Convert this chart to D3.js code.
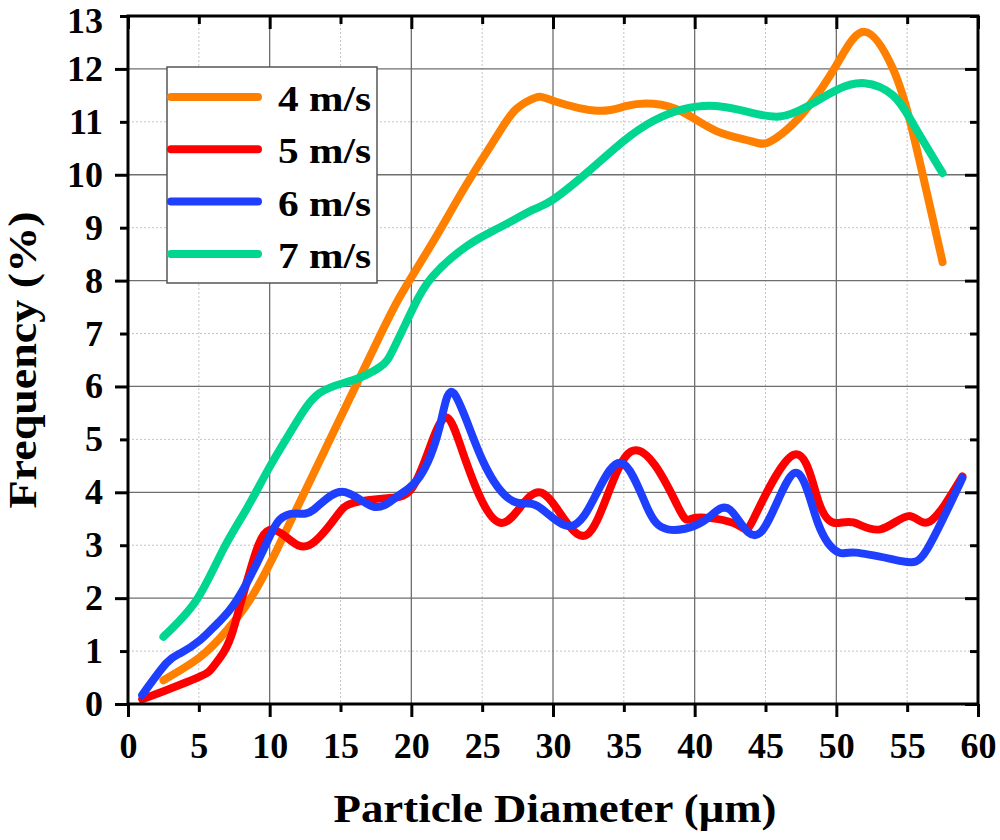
<!DOCTYPE html>
<html>
<head>
<meta charset="utf-8">
<script src="https://cdn.jsdelivr.net/npm/d3@7"></script>
<style>
  body { margin: 0; background: #fff; }
  svg text { font-family: "Liberation Serif", "Times New Roman", serif; font-weight: bold; }
</style>
</head>
<body>
<div id="root"></div>
<script>
// data
var seriesNames = ["4 m/s", "5 m/s", "6 m/s", "7 m/s"];
var seriesColors = ["#ff8000", "#ff0000", "#1f3fff", "#00d68f"];

var x4 = [2.5, 5.1, 7.0, 8.6, 10.5, 13.9, 17.3, 19.2, 21.5, 23.9, 26.2, 27.4, 28.8, 30.0, 33.1, 35.2, 37.1, 39.2, 41.5, 43.9, 45.1, 46.5, 48.0, 50.0, 52.0, 54.0, 55.4, 57.5];
var y4 = [0.45, 0.89, 1.40, 1.97, 2.91, 4.8, 6.69, 7.70, 8.72, 9.82, 10.8, 11.24, 11.46, 11.40, 11.21, 11.30, 11.34, 11.18, 10.83, 10.64, 10.6, 10.85, 11.28, 12.07, 12.7, 12.0, 10.8, 8.35];

var x5 = [1.0, 2.7, 5.1, 6.0, 6.8, 7.4, 8.0, 8.6, 9.2, 10.0, 11.2, 12.8, 14.7, 15.9, 18.3, 20.1, 21.5, 22.6, 23.9, 26.4, 29.2, 32.4, 35.5, 38.8, 40.1, 43.0, 44.2, 47.0, 48.7, 49.9, 51.2, 53.1, 55.1, 56.6, 58.9];
var y5 = [0.09, 0.26, 0.52, 0.70, 1.0, 1.38, 1.95, 2.5, 3.0, 3.29, 3.15, 3.0, 3.54, 3.8, 3.89, 4.1, 4.99, 5.40, 4.55, 3.42, 3.99, 3.2, 4.77, 3.74, 3.52, 3.39, 3.52, 4.71, 3.86, 3.42, 3.43, 3.30, 3.55, 3.45, 4.30];

var x6 = [1.0, 2.7, 3.7, 5.1, 6.3, 7.7, 9.55, 10.7, 11.9, 13.1, 15.1, 17.3, 19.0, 20.6, 22.0, 23.0, 25.0, 27.2, 28.9, 31.2, 33.1, 34.9, 36.6, 38.1, 40.6, 42.5, 44.6, 47.0, 48.7, 50.2, 51.4, 54.6, 56.4, 58.9];
var y6 = [0.17, 0.77, 0.96, 1.21, 1.52, 1.97, 2.91, 3.48, 3.6, 3.67, 4.01, 3.73, 3.92, 4.30, 5.24, 5.87, 4.62, 3.83, 3.74, 3.36, 3.99, 4.55, 3.74, 3.30, 3.45, 3.67, 3.23, 4.36, 3.42, 2.86, 2.86, 2.70, 2.92, 4.27];

var x7 = [2.5, 4.85, 6.7, 8.4, 10.0, 11.7, 13.5, 15.9, 17.8, 18.7, 20.1, 21.5, 23.9, 26.2, 28.6, 30.0, 32.4, 35.0, 37.1, 39.2, 41.5, 43.9, 46.0, 48.0, 50.0, 52.0, 54.0, 55.4, 57.5];
var y7 = [1.27, 1.97, 2.91, 3.7, 4.48, 5.24, 5.87, 6.12, 6.37, 6.69, 7.47, 8.08, 8.65, 9.0, 9.34, 9.53, 10.04, 10.64, 11.02, 11.24, 11.30, 11.18, 11.1, 11.3, 11.6, 11.73, 11.5, 10.97, 10.03];

var xTicks = [0, 5, 10, 15, 20, 25, 30, 35, 40, 45, 50, 55, 60];
var yTicks = [0, 1, 2, 3, 4, 5, 6, 7, 8, 9, 10, 11, 12, 13];

var seriesX = [x4, x5, x6, x7];
var seriesY = [y4, y5, y6, y7];

// layout
var margin = { top: 16, right: 22, bottom: 136, left: 128 };
var width = 1000 - margin.left - margin.right;
var height = 840 - margin.top - margin.bottom;

var svg = d3.select("#root")
    .append("svg")
    .attr("width", 1000)
    .attr("height", 840);

var graph = svg.append("g")
    .attr("transform", "translate(" + margin.left + "," + margin.top + ")");

var x = d3.scaleLinear().domain([0, 60]).range([0, width]);
var y = d3.scaleLinear().domain([0, 13]).range([height, 0]);

var xMajor = xTicks.filter(function(d) { return d % 10 === 0; });
var xMinor = xTicks.filter(function(d) { return d % 10 !== 0; });
var yMajor = yTicks.filter(function(d) { return d % 2 === 0; });
var yMinor = yTicks.filter(function(d) { return d % 2 !== 0; });

// minor grid (dotted)
graph.append("g").selectAll("line")
    .data(xMinor)
    .join("line")
    .attr("x1", function(d) { return x(d); })
    .attr("x2", function(d) { return x(d); })
    .attr("y1", 0).attr("y2", height)
    .attr("stroke", "#c4c4c4").attr("stroke-width", 1).attr("stroke-dasharray", "2,2");
graph.append("g").selectAll("line")
    .data(yMinor)
    .join("line")
    .attr("y1", function(d) { return y(d); })
    .attr("y2", function(d) { return y(d); })
    .attr("x1", 0).attr("x2", width)
    .attr("stroke", "#c4c4c4").attr("stroke-width", 1).attr("stroke-dasharray", "2,2");

// major grid (solid)
graph.append("g").selectAll("line")
    .data(xMajor)
    .join("line")
    .attr("x1", function(d) { return x(d); })
    .attr("x2", function(d) { return x(d); })
    .attr("y1", 0).attr("y2", height)
    .attr("stroke", "#6e6e6e").attr("stroke-width", 1.3);
graph.append("g").selectAll("line")
    .data(yMajor)
    .join("line")
    .attr("y1", function(d) { return y(d); })
    .attr("y2", function(d) { return y(d); })
    .attr("x1", 0).attr("x2", width)
    .attr("stroke", "#6e6e6e").attr("stroke-width", 1.3);

// lines
var line = d3.line()
    .x(function(d) { return x(d[0]); })
    .y(function(d) { return y(d[1]); })
    .curve(d3.curveNatural);

seriesX.forEach(function(xs, i) {
    var pts = xs.map(function(v, j) { return [v, seriesY[i][j]]; });
    graph.append("path")
        .datum(pts)
        .attr("fill", "none")
        .attr("stroke", seriesColors[i])
        .attr("stroke-width", 8)
        .attr("stroke-linecap", "round")
        .attr("stroke-linejoin", "round")
        .attr("d", line);
});

// axes: major / minor ticks, outward on bottom & left, inward on top & right
function styleAxis(g) {
    g.select(".domain").remove();
    g.selectAll(".tick line").attr("stroke", "#000").attr("stroke-width", 3);
}

graph.append("g")
    .attr("transform", "translate(0," + height + ")")
    .call(d3.axisBottom(x).tickValues(xTicks).tickSize(0).tickPadding(28).tickFormat(d3.format("d")))
    .call(function(g) {
        g.select(".domain").remove();
        g.selectAll("text").attr("font-size", 36).attr("fill", "#000");
    });
graph.append("g")
    .attr("transform", "translate(0," + height + ")")
    .call(d3.axisBottom(x).tickValues(xMajor).tickSize(13).tickFormat(""))
    .call(styleAxis);
graph.append("g")
    .attr("transform", "translate(0," + height + ")")
    .call(d3.axisBottom(x).tickValues(xMinor).tickSize(8).tickFormat(""))
    .call(styleAxis);
graph.append("g")
    .call(d3.axisBottom(x).tickValues(xMajor).tickSize(13).tickFormat(""))
    .call(styleAxis);
graph.append("g")
    .call(d3.axisBottom(x).tickValues(xMinor).tickSize(8).tickFormat(""))
    .call(styleAxis);

graph.append("g")
    .call(d3.axisLeft(y).tickValues(yTicks).tickSize(0).tickPadding(25).tickFormat(d3.format("d")))
    .call(function(g) {
        g.select(".domain").remove();
        g.selectAll("text").attr("font-size", 36).attr("fill", "#000");
        // keep the top label inside the page
        g.selectAll(".tick").filter(function(d) { return d === 13; })
            .select("text").attr("y", 5);
    });
graph.append("g")
    .call(d3.axisLeft(y).tickValues(yMajor).tickSize(13).tickFormat(""))
    .call(styleAxis);
graph.append("g")
    .call(d3.axisLeft(y).tickValues(yMinor).tickSize(8).tickFormat(""))
    .call(styleAxis);
graph.append("g")
    .attr("transform", "translate(" + width + ",0)")
    .call(d3.axisLeft(y).tickValues(yMajor).tickSize(13).tickFormat(""))
    .call(styleAxis);
graph.append("g")
    .attr("transform", "translate(" + width + ",0)")
    .call(d3.axisLeft(y).tickValues(yMinor).tickSize(8).tickFormat(""))
    .call(styleAxis);

// frame
graph.append("rect")
    .attr("width", width)
    .attr("height", height)
    .attr("fill", "none")
    .attr("stroke", "#000")
    .attr("stroke-width", 3);

// axis titles
svg.append("text")
    .attr("x", 555)
    .attr("y", 822)
    .attr("text-anchor", "middle")
    .attr("font-size", 41)
    .attr("textLength", 443)
    .attr("lengthAdjust", "spacingAndGlyphs")
    .text("Particle Diameter (\u03bcm)");

svg.append("text")
    .attr("transform", "rotate(-90)")
    .attr("x", -(margin.top + height / 2))
    .attr("y", 36)
    .attr("text-anchor", "middle")
    .attr("font-size", 40)
    .attr("textLength", 297)
    .attr("lengthAdjust", "spacingAndGlyphs")
    .text("Frequency (%)");

// legend
var legend = svg.append("g").attr("transform", "translate(167,67)");
legend.append("rect")
    .attr("width", 210)
    .attr("height", 216)
    .attr("fill", "#fff")
    .attr("stroke", "#555")
    .attr("stroke-width", 1.5);

seriesNames.forEach(function(name, i) {
    var row = legend.append("g").attr("transform", "translate(0," + (30 + i * 52.3) + ")");
    row.append("line")
        .attr("x1", 4).attr("x2", 91)
        .attr("stroke", seriesColors[i])
        .attr("stroke-width", 8)
        .attr("stroke-linecap", "round");
    row.append("text")
        .attr("x", 111)
        .attr("y", 14)
        .attr("font-size", 36)
        .attr("textLength", 93)
        .attr("lengthAdjust", "spacingAndGlyphs")
        .text(name);
});
</script>
</body>
</html>
